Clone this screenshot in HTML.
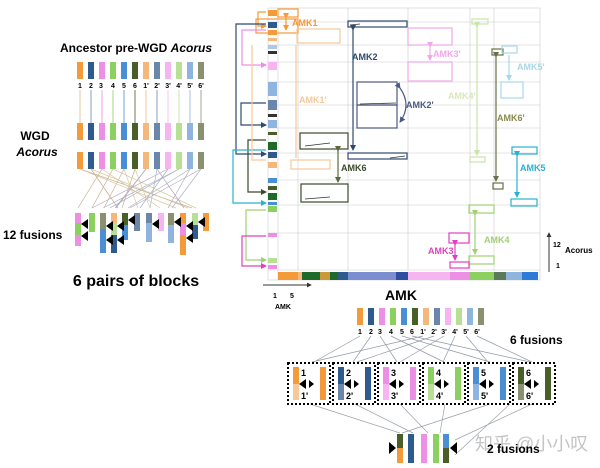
<!DOCTYPE html>
<html><head><meta charset="utf-8"><style>
body{margin:0;background:#fff;width:600px;height:468px;overflow:hidden}
svg{display:block;font-family:"Liberation Sans",Arial,sans-serif}
</style></head><body>
<svg width="600" height="468" viewBox="0 0 600 468" xmlns="http://www.w3.org/2000/svg">
<defs>
<marker id="a" viewBox="0 0 6 6" refX="5" refY="3" markerWidth="5" markerHeight="5" orient="auto"><path d="M0 0L6 3L0 6z" fill="context-stroke"/></marker>
<marker id="ak" viewBox="0 0 6 6" refX="5" refY="3" markerWidth="5" markerHeight="5" orient="auto"><path d="M0 0L6 3L0 6z" fill="#333"/></marker>
</defs>
<!-- Left panel -->
<text x="136" y="52" font-size="12" font-weight="bold" text-anchor="middle">Ancestor pre-WGD <tspan font-style="italic">Acorus</tspan></text>
<g id="row">
<rect x="77" y="62" width="6" height="17" fill="#f39a3a"/><rect x="88" y="62" width="6" height="17" fill="#2f5a8e"/><rect x="99" y="62" width="6" height="17" fill="#ee8fe6"/><rect x="110" y="62" width="6" height="17" fill="#8cd060"/><rect x="121" y="62" width="6" height="17" fill="#4a8ed6"/><rect x="132" y="62" width="6" height="17" fill="#4a5e2a"/><rect x="143" y="62" width="6" height="17" fill="#f6b77a"/><rect x="154" y="62" width="6" height="17" fill="#6b86a8"/><rect x="165" y="62" width="6" height="17" fill="#f6b4f0"/><rect x="176" y="62" width="6" height="17" fill="#b8df96"/><rect x="187" y="62" width="6" height="17" fill="#8fb4e0"/><rect x="198" y="62" width="6" height="17" fill="#8a9170"/>
</g>
<use href="#row" y="61"/><use href="#row" y="90"/>
<g font-size="7" font-weight="bold" text-anchor="middle"><text x="80" y="88">1</text><text x="91" y="88">2</text><text x="101" y="88">3</text><text x="113" y="88">4</text><text x="124" y="88">5</text><text x="135" y="88">6</text><text x="146" y="88">1'</text><text x="157" y="88">2'</text><text x="168" y="88">3'</text><text x="179" y="88">4'</text><text x="190" y="88">5'</text><text x="201" y="88">6'</text></g>
<g stroke-width="0.8"><line x1="80" y1="90" x2="80" y2="123" stroke="#d9b98a"/><line x1="91" y1="90" x2="91" y2="123" stroke="#6b86a8"/><line x1="102" y1="90" x2="102" y2="123" stroke="#ee8fe6"/><line x1="113" y1="90" x2="113" y2="123" stroke="#8cd060"/><line x1="124" y1="90" x2="124" y2="123" stroke="#4a8ed6"/><line x1="135" y1="90" x2="135" y2="123" stroke="#4a5e2a"/><line x1="146" y1="90" x2="146" y2="123" stroke="#f6b77a"/><line x1="157" y1="90" x2="157" y2="123" stroke="#6b86a8"/><line x1="168" y1="90" x2="168" y2="123" stroke="#f6b4f0"/><line x1="179" y1="90" x2="179" y2="123" stroke="#b8df96"/><line x1="190" y1="90" x2="190" y2="123" stroke="#8fb4e0"/><line x1="201" y1="90" x2="201" y2="123" stroke="#8a9170"/></g>
<text x="35" y="140" font-size="12" font-weight="bold" text-anchor="middle">WGD</text>
<text x="37" y="156" font-size="12" font-weight="bold" font-style="italic" text-anchor="middle">Acorus</text>
<g stroke-width="0.7" fill="none">
<path d="M80 169L192 208M91 169L118 208M102 169L78 208M113 169L92 208M124 169L104 208M135 169L122 208" stroke="#c9b090"/>
<path d="M146 169L115 208M157 169L150 208M168 169L140 208M179 169L103 208M190 169L128 208M201 169L172 208" stroke="#a8b4c8"/>
<path d="M80 169L176 208M91 169L188 208M102 169L160 208M113 169L196 208M124 169L138 208M135 169L150 208" stroke="#d8c8a0"/>
<path d="M146 169L116 208M157 169L184 208M168 169L92 208M179 169L110 208M190 169L168 208M201 169L130 208" stroke="#b8a8c0"/>
</g>
<g>
<rect x="75" y="213" width="6" height="10" fill="#ee8fe6"/><rect x="75" y="223" width="6" height="12" fill="#8cd060"/><rect x="75" y="235" width="6" height="11" fill="#ee8fe6"/>
<rect x="89" y="213" width="6" height="19" fill="#8cd060"/>
<rect x="100" y="213" width="6" height="16" fill="#8a9170"/><rect x="100" y="229" width="6" height="24" fill="#4a8ed6"/>
<rect x="111" y="213" width="6" height="10" fill="#f6b77a"/><rect x="111" y="223" width="6" height="12" fill="#b8df96"/><rect x="111" y="235" width="6" height="18" fill="#2f5a8e"/>
<rect x="122" y="213" width="6" height="12" fill="#4a5e2a"/><rect x="122" y="225" width="6" height="15" fill="#4a8ed6"/>
<rect x="134" y="213" width="6" height="18" fill="#6b86a8"/>
<rect x="146" y="213" width="6" height="10" fill="#6b86a8"/><rect x="146" y="223" width="6" height="19" fill="#8fb4e0"/>
<rect x="158" y="213" width="6" height="18" fill="#f6b4f0"/>
<rect x="168" y="213" width="6" height="12" fill="#8a9170"/><rect x="168" y="225" width="6" height="18" fill="#8fb4e0"/>
<rect x="180" y="213" width="6" height="10" fill="#f39a3a"/><rect x="180" y="223" width="6" height="12" fill="#ee8fe6"/><rect x="180" y="235" width="6" height="20" fill="#f39a3a"/>
<rect x="192" y="213" width="6" height="12" fill="#b8df96"/><rect x="192" y="225" width="6" height="14" fill="#2f5a8e"/>
<rect x="203" y="213" width="6" height="18" fill="#f39a3a"/>
<g fill="#000"><path d="M81 224l7-5v10z"/><path d="M81 236l7-5v10z"/><path d="M106 226l7-5v10z"/><path d="M106 240l7-5v10z"/><path d="M117 226l7-5v10z"/><path d="M117 240l7-5v10z"/><path d="M128 220l7-5v10z"/><path d="M152 224l7-5v10z"/><path d="M174 222l7-5v10z"/><path d="M186 226l7-5v10z"/><path d="M186 238l7-5v10z"/><path d="M198 222l7-5v10z"/></g>
</g>
<text x="3" y="239" font-size="12" font-weight="bold">12 fusions</text>
<text x="136" y="286" font-size="16" font-weight="bold" text-anchor="middle">6 pairs of blocks</text>

<!-- Dot plot -->
<rect x="268" y="8" width="272" height="272" fill="#fff" stroke="#ccc" stroke-width="0.6"/>
<g stroke="#ccc" stroke-width="0.6">
<line x1="298" y1="8" x2="298" y2="270"/><line x1="348" y1="8" x2="348" y2="270"/><line x1="408" y1="8" x2="408" y2="270"/><line x1="470" y1="8" x2="470" y2="270"/><line x1="494" y1="8" x2="494" y2="270"/><line x1="278" y1="8" x2="278" y2="280"/>
<line x1="268" y1="22" x2="540" y2="22"/><line x1="268" y1="45" x2="540" y2="45"/><line x1="268" y1="62" x2="540" y2="62"/><line x1="268" y1="82" x2="540" y2="82"/><line x1="268" y1="105" x2="540" y2="105"/><line x1="268" y1="128" x2="540" y2="128"/><line x1="268" y1="153" x2="540" y2="153"/><line x1="268" y1="180" x2="540" y2="180"/><line x1="268" y1="205" x2="540" y2="205"/><line x1="268" y1="233" x2="540" y2="233"/><line x1="268" y1="270" x2="540" y2="270"/>
</g>
<g>
<rect x="268" y="10" width="9" height="6" fill="#f39a3a"/><rect x="268" y="22" width="9" height="6" fill="#2f5a8e"/><rect x="268" y="30" width="9" height="5" fill="#f39a3a"/><rect x="268" y="38" width="9" height="3" fill="#f6b77a"/><rect x="268" y="45" width="9" height="4" fill="#b0c8e8"/><rect x="268" y="51" width="9" height="3" fill="#333"/><rect x="268" y="62" width="9" height="8" fill="#f6b4f0"/><rect x="268" y="82" width="9" height="14" fill="#8fb4e0"/><rect x="268" y="100" width="9" height="10" fill="#6b86a8"/><rect x="268" y="114" width="9" height="3" fill="#333"/><rect x="268" y="120" width="9" height="8" fill="#8fb4e0"/><rect x="268" y="132" width="9" height="3" fill="#4a5e2a"/><rect x="268" y="142" width="9" height="8" fill="#1d6a2a"/><rect x="268" y="152" width="9" height="6" fill="#2f5a8e"/><rect x="268" y="162" width="9" height="6" fill="#f6b77a"/><rect x="268" y="178" width="9" height="5" fill="#4a8ed6"/><rect x="268" y="186" width="9" height="4" fill="#4a5e2a"/><rect x="268" y="193" width="9" height="7" fill="#1d6a2a"/><rect x="268" y="202" width="9" height="3" fill="#4a8ed6"/><rect x="268" y="206" width="9" height="6" fill="#8cd060"/><rect x="268" y="233" width="9" height="4" fill="#ee8fe6"/><rect x="268" y="258" width="9" height="5" fill="#b8df96"/><rect x="268" y="265" width="9" height="4" fill="#ee8fe6"/>
</g>
<g>
<rect x="278" y="272" width="20" height="8" fill="#f39a3a"/><rect x="298" y="272" width="4" height="8" fill="#f6b77a"/><rect x="302" y="272" width="18" height="8" fill="#1d6a2a"/><rect x="320" y="272" width="10" height="8" fill="#c99a3a"/><rect x="330" y="272" width="8" height="8" fill="#1d6a2a"/><rect x="338" y="272" width="10" height="8" fill="#2f5a8e"/><rect x="348" y="272" width="48" height="8" fill="#7a8ed0"/><rect x="396" y="272" width="12" height="8" fill="#2f4ea0"/><rect x="408" y="272" width="42" height="8" fill="#f6b4f0"/><rect x="450" y="272" width="20" height="8" fill="#ee8fe6"/><rect x="470" y="272" width="24" height="8" fill="#8cd060"/><rect x="494" y="272" width="12" height="8" fill="#5a7a5a"/><rect x="506" y="272" width="16" height="8" fill="#8fb4e0"/><rect x="522" y="272" width="16" height="8" fill="#2f7ad6"/>
</g>
<g fill="none" stroke-width="1.2">
<rect x="278" y="9" width="20" height="8" stroke="#f39a3a"/><rect x="256" y="19" width="42" height="14" stroke="#f39a3a"/>
<rect x="297" y="29" width="43" height="14" stroke="#f6c89a"/><rect x="291" y="160" width="39" height="9" stroke="#f6c89a"/>
<rect x="348" y="21" width="59" height="6" stroke="#2f4a70"/><rect x="348" y="153" width="59" height="6" stroke="#2f4a70"/>
<rect x="357" y="82" width="40" height="23" stroke="#4a5a80"/><rect x="357" y="105" width="40" height="23" stroke="#4a5a80"/>
<rect x="300" y="133" width="48" height="16" stroke="#3a4a2a"/><rect x="301" y="184" width="47" height="18" stroke="#3a4a2a"/>
<rect x="408" y="28" width="44" height="17" stroke="#f0a8ea"/><rect x="408" y="62" width="44" height="19" stroke="#f0a8ea"/>
<rect x="472" y="19" width="16" height="5" stroke="#c8e4a8"/><rect x="470" y="157" width="15" height="5" stroke="#c8e4a8"/>
<rect x="492" y="49" width="11" height="6" stroke="#6a704a"/><rect x="493" y="183" width="10" height="6" stroke="#6a704a"/>
<rect x="502" y="46" width="15" height="7" stroke="#a8d8e8"/><rect x="501" y="82" width="22" height="16" stroke="#a8d8e8"/>
<rect x="512" y="147" width="25" height="7" stroke="#2ab0d0"/><rect x="511" y="199" width="26" height="7" stroke="#2ab0d0"/>
<rect x="469" y="205" width="25" height="8" stroke="#a0d070"/><rect x="469" y="256" width="25" height="8" stroke="#a0d070"/>
<rect x="449" y="233" width="20" height="10" stroke="#e040c0"/><rect x="450" y="262" width="19" height="6" stroke="#e040c0"/>
</g>
<g stroke="#333" stroke-width="0.8"><line x1="305" y1="146" x2="330" y2="143"/><line x1="305" y1="199" x2="330" y2="197"/><line x1="360" y1="104" x2="396" y2="103"/><line x1="350" y1="25" x2="360" y2="24"/><line x1="390" y1="158" x2="405" y2="156"/></g>
<g stroke-width="1.2" fill="none">
<line x1="353" y1="30" x2="353" y2="150" stroke="#2f4a70" marker-start="url(#a)" marker-end="url(#a)"/>
<line x1="338" y1="151" x2="338" y2="182" stroke="#5a6a3a" marker-start="url(#a)" marker-end="url(#a)"/>
<line x1="430" y1="47" x2="430" y2="60" stroke="#f0a8ea" marker-start="url(#a)" marker-end="url(#a)"/>
<line x1="477" y1="27" x2="477" y2="155" stroke="#c8e4a8" marker-start="url(#a)" marker-end="url(#a)"/>
<line x1="496" y1="57" x2="496" y2="181" stroke="#6a704a" marker-start="url(#a)" marker-end="url(#a)"/>
<line x1="509" y1="55" x2="509" y2="80" stroke="#a8d8e8" marker-end="url(#a)"/>
<line x1="517" y1="156" x2="517" y2="197" stroke="#2ab0d0" marker-start="url(#a)" marker-end="url(#a)"/>
<line x1="475" y1="215" x2="475" y2="254" stroke="#a0d070" marker-start="url(#a)" marker-end="url(#a)"/>
<line x1="455" y1="245" x2="455" y2="260" stroke="#e040c0" marker-start="url(#a)" marker-end="url(#a)"/>
<line x1="286" y1="18" x2="286" y2="30" stroke="#f39a3a" marker-start="url(#a)" marker-end="url(#a)"/>
<line x1="296" y1="45" x2="296" y2="158" stroke="#f6c89a"/>
<path d="M400 88 Q412 105 400 122" stroke="#4a5a80" marker-start="url(#a)" marker-end="url(#a)"/>
</g>
<g stroke-width="1.2" fill="none">
<path d="M266 12H258V26H266" stroke="#f39a3a" marker-end="url(#a)"/>
<path d="M266 30H242V65H266" stroke="#ee8fe6" marker-end="url(#a)"/>
<path d="M266 24H236V154H266" stroke="#2f4a70" marker-end="url(#a)"/>
<path d="M266 103H241V125H266" stroke="#2f4a70" marker-end="url(#a)"/>
<path d="M266 140H248V192H266" stroke="#3a4a2a" marker-end="url(#a)"/>
<path d="M266 150H233V203H266" stroke="#2ab0d0" marker-end="url(#a)"/>
<path d="M266 210H246V260H266" stroke="#a0d070" marker-end="url(#a)"/>
<path d="M266 236H242V266H266" stroke="#e040c0" marker-end="url(#a)"/>
<path d="M266 160H252V45" stroke="#f6c89a"/>
</g>
<g font-size="9" font-weight="bold">
<text x="292" y="26" fill="#f39a3a">AMK1</text>
<text x="352" y="60" fill="#2f4a70">AMK2</text>
<text x="433" y="57" fill="#f0a8ea">AMK3'</text>
<text x="517" y="70" fill="#a8d8e8">AMK5'</text>
<text x="299" y="103" fill="#f6c89a">AMK1'</text>
<text x="448" y="99" fill="#d8e8b8">AMK4'</text>
<text x="406" y="108" fill="#4a5a80">AMK2'</text>
<text x="497" y="121" fill="#8a8a50">AMK6'</text>
<text x="341" y="171" fill="#3a4a2a">AMK6</text>
<text x="520" y="171" fill="#2ab0d0">AMK5</text>
<text x="484" y="243" fill="#a0d070">AMK4</text>
<text x="428" y="254" fill="#e040c0">AMK3</text>
</g>
<line x1="549" y1="272" x2="549" y2="233" stroke="#333" stroke-width="1" marker-end="url(#ak)"/>
<text x="553" y="247" font-size="7" font-weight="bold">12</text><text x="565" y="253" font-size="8" font-weight="bold">Acorus</text><text x="556" y="268" font-size="7" font-weight="bold">1</text>
<line x1="263" y1="285" x2="311" y2="285" stroke="#333" marker-end="url(#ak)"/>
<text x="273" y="298" font-size="7" font-weight="bold">1</text><text x="290" y="298" font-size="7" font-weight="bold">5</text><text x="275" y="309" font-size="7" font-weight="bold">AMK</text>
<text x="401" y="300" font-size="14" font-weight="bold" text-anchor="middle">AMK</text>

<!-- bottom panel -->
<g transform="translate(280,246)"><use href="#row"/></g>
<g font-size="7" font-weight="bold" text-anchor="middle"><text x="360" y="334">1</text><text x="371" y="334">2</text><text x="380" y="334">3</text><text x="391" y="334">4</text><text x="402" y="334">5</text><text x="412" y="334">6</text><text x="423" y="334">1'</text><text x="434" y="334">2'</text><text x="444" y="334">3'</text><text x="455" y="334">4'</text><text x="466" y="334">5'</text><text x="477" y="334">6'</text></g>
<text x="510" y="344" font-size="12" font-weight="bold">6 fusions</text>
<g stroke-width="0.7" fill="none">
<path d="M360 336L314 362M371 336L353 362M380 336L397 362M391 336L444 362M402 336L490 362M412 336L530 362M423 336L312 362M434 336L357 362M444 336L400 362M455 336L443 362M466 336L488 362M477 336L532 362" stroke="#8f9aa8"/>
<path d="M310 404L400 433M355 404L413 433M400 404L428 433M445 404L440 433M490 404L402 433M532 404L455 440M510 404L455 455" stroke="#9aa0a8"/>
</g>
<g fill="none" stroke="#000" stroke-width="2" stroke-dasharray="2 2">
<rect x="288" y="363" width="42" height="41"/><rect x="333" y="363" width="42" height="41"/><rect x="378" y="363" width="42" height="41"/><rect x="423" y="363" width="42" height="41"/><rect x="468" y="363" width="42" height="41"/><rect x="513" y="363" width="42" height="41"/>
</g>
<g font-size="9" font-weight="bold">
<g transform="translate(288,0)"><rect x="5" y="367" width="6" height="17" fill="#f39a3a"/><rect x="5" y="384" width="6" height="16" fill="#f6c89a"/><rect x="32" y="367" width="6" height="33" fill="#f39a3a"/><path d="M11 384l7-5v10zM26 384l-5-4v8z" fill="#000"/><text x="13" y="376">1</text><text x="13" y="399">1'</text></g>
<g transform="translate(333,0)"><rect x="5" y="367" width="6" height="17" fill="#2f5a8e"/><rect x="5" y="384" width="6" height="16" fill="#6b86a8"/><rect x="32" y="367" width="6" height="33" fill="#2f5a8e"/><path d="M11 384l7-5v10zM26 384l-5-4v8z" fill="#000"/><text x="13" y="376">2</text><text x="13" y="399">2'</text></g>
<g transform="translate(378,0)"><rect x="5" y="367" width="6" height="17" fill="#ee8fe6"/><rect x="5" y="384" width="6" height="16" fill="#f6b4f0"/><rect x="32" y="367" width="6" height="33" fill="#ee8fe6"/><path d="M11 384l7-5v10zM26 384l-5-4v8z" fill="#000"/><text x="13" y="376">3</text><text x="13" y="399">3'</text></g>
<g transform="translate(423,0)"><rect x="5" y="367" width="6" height="17" fill="#8cd060"/><rect x="5" y="384" width="6" height="16" fill="#b8df96"/><rect x="32" y="367" width="6" height="33" fill="#8cd060"/><path d="M11 384l7-5v10zM26 384l-5-4v8z" fill="#000"/><text x="13" y="376">4</text><text x="13" y="399">4'</text></g>
<g transform="translate(468,0)"><rect x="5" y="367" width="6" height="17" fill="#4a8ed6"/><rect x="5" y="384" width="6" height="16" fill="#8fb4e0"/><rect x="32" y="367" width="6" height="33" fill="#4a8ed6"/><path d="M11 384l7-5v10zM26 384l-5-4v8z" fill="#000"/><text x="13" y="376">5</text><text x="13" y="399">5'</text></g>
<g transform="translate(513,0)"><rect x="5" y="367" width="6" height="17" fill="#4a5e2a"/><rect x="5" y="384" width="6" height="16" fill="#8a9170"/><rect x="32" y="367" width="6" height="33" fill="#4a5e2a"/><path d="M11 384l7-5v10zM26 384l-5-4v8z" fill="#000"/><text x="13" y="376">6</text><text x="13" y="399">6'</text></g>
</g>
<g>
<rect x="397" y="434" width="6" height="14" fill="#4a5e2a"/><rect x="397" y="448" width="6" height="15" fill="#f39a3a"/>
<rect x="408" y="434" width="6" height="29" fill="#2f5a8e"/>
<rect x="421" y="434" width="6" height="29" fill="#ee8fe6"/>
<rect x="433" y="434" width="6" height="29" fill="#8cd060"/>
<rect x="443" y="434" width="6" height="14" fill="#4a8ed6"/><rect x="443" y="448" width="6" height="15" fill="#4a5e2a"/>
<path d="M396 448l-7-6v12zM450 448l7-6v12z" fill="#000"/>
</g>
<text x="475" y="450" font-size="18" fill="#c4c4c4" font-family="'Liberation Sans','Noto Sans CJK SC',sans-serif">知乎 @小小叹</text>
<text x="487" y="453" font-size="12" font-weight="bold">2 fusions</text>
</svg>
</body></html>
